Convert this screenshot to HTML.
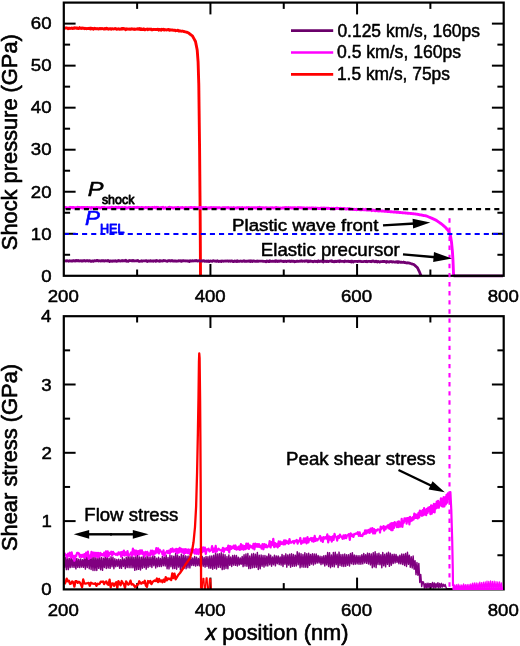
<!DOCTYPE html>
<html><head><meta charset="utf-8"><title>Shock pressure and shear stress profiles</title>
<style>html,body{margin:0;padding:0;background:#fff;} svg{display:block;}</style>
</head><body>
<svg width="520" height="646" viewBox="0 0 520 646" font-family="'Liberation Sans', Arial, Helvetica, sans-serif">
<rect width="520" height="646" fill="#fff"/>
<g><line x1="137.12" y1="275.8" x2="137.12" y2="269.5" stroke="#000" stroke-width="2"/>
<line x1="137.12" y1="2.6" x2="137.12" y2="8.9" stroke="#000" stroke-width="2"/>
<line x1="210.43" y1="275.8" x2="210.43" y2="264.0" stroke="#000" stroke-width="2"/>
<line x1="210.43" y1="2.6" x2="210.43" y2="14.4" stroke="#000" stroke-width="2"/>
<line x1="283.75" y1="275.8" x2="283.75" y2="269.5" stroke="#000" stroke-width="2"/>
<line x1="283.75" y1="2.6" x2="283.75" y2="8.9" stroke="#000" stroke-width="2"/>
<line x1="357.07" y1="275.8" x2="357.07" y2="264.0" stroke="#000" stroke-width="2"/>
<line x1="357.07" y1="2.6" x2="357.07" y2="14.4" stroke="#000" stroke-width="2"/>
<line x1="430.38" y1="275.8" x2="430.38" y2="269.5" stroke="#000" stroke-width="2"/>
<line x1="430.38" y1="2.6" x2="430.38" y2="8.9" stroke="#000" stroke-width="2"/>
<line x1="137.12" y1="589.4" x2="137.12" y2="583.1" stroke="#000" stroke-width="2"/>
<line x1="137.12" y1="316.2" x2="137.12" y2="322.5" stroke="#000" stroke-width="2"/>
<line x1="210.43" y1="589.4" x2="210.43" y2="577.6" stroke="#000" stroke-width="2"/>
<line x1="210.43" y1="316.2" x2="210.43" y2="328.0" stroke="#000" stroke-width="2"/>
<line x1="283.75" y1="589.4" x2="283.75" y2="583.1" stroke="#000" stroke-width="2"/>
<line x1="283.75" y1="316.2" x2="283.75" y2="322.5" stroke="#000" stroke-width="2"/>
<line x1="357.07" y1="589.4" x2="357.07" y2="577.6" stroke="#000" stroke-width="2"/>
<line x1="357.07" y1="316.2" x2="357.07" y2="328.0" stroke="#000" stroke-width="2"/>
<line x1="430.38" y1="589.4" x2="430.38" y2="583.1" stroke="#000" stroke-width="2"/>
<line x1="430.38" y1="316.2" x2="430.38" y2="322.5" stroke="#000" stroke-width="2"/>
<line x1="63.8" y1="254.78" x2="70.1" y2="254.78" stroke="#000" stroke-width="2"/>
<line x1="503.7" y1="254.78" x2="497.4" y2="254.78" stroke="#000" stroke-width="2"/>
<line x1="63.8" y1="233.77" x2="75.6" y2="233.77" stroke="#000" stroke-width="2"/>
<line x1="503.7" y1="233.77" x2="491.9" y2="233.77" stroke="#000" stroke-width="2"/>
<line x1="63.8" y1="212.75" x2="70.1" y2="212.75" stroke="#000" stroke-width="2"/>
<line x1="503.7" y1="212.75" x2="497.4" y2="212.75" stroke="#000" stroke-width="2"/>
<line x1="63.8" y1="191.74" x2="75.6" y2="191.74" stroke="#000" stroke-width="2"/>
<line x1="503.7" y1="191.74" x2="491.9" y2="191.74" stroke="#000" stroke-width="2"/>
<line x1="63.8" y1="170.72" x2="70.1" y2="170.72" stroke="#000" stroke-width="2"/>
<line x1="503.7" y1="170.72" x2="497.4" y2="170.72" stroke="#000" stroke-width="2"/>
<line x1="63.8" y1="149.71" x2="75.6" y2="149.71" stroke="#000" stroke-width="2"/>
<line x1="503.7" y1="149.71" x2="491.9" y2="149.71" stroke="#000" stroke-width="2"/>
<line x1="63.8" y1="128.69" x2="70.1" y2="128.69" stroke="#000" stroke-width="2"/>
<line x1="503.7" y1="128.69" x2="497.4" y2="128.69" stroke="#000" stroke-width="2"/>
<line x1="63.8" y1="107.68" x2="75.6" y2="107.68" stroke="#000" stroke-width="2"/>
<line x1="503.7" y1="107.68" x2="491.9" y2="107.68" stroke="#000" stroke-width="2"/>
<line x1="63.8" y1="86.66" x2="70.1" y2="86.66" stroke="#000" stroke-width="2"/>
<line x1="503.7" y1="86.66" x2="497.4" y2="86.66" stroke="#000" stroke-width="2"/>
<line x1="63.8" y1="65.65" x2="75.6" y2="65.65" stroke="#000" stroke-width="2"/>
<line x1="503.7" y1="65.65" x2="491.9" y2="65.65" stroke="#000" stroke-width="2"/>
<line x1="63.8" y1="44.63" x2="70.1" y2="44.63" stroke="#000" stroke-width="2"/>
<line x1="503.7" y1="44.63" x2="497.4" y2="44.63" stroke="#000" stroke-width="2"/>
<line x1="63.8" y1="23.62" x2="75.6" y2="23.62" stroke="#000" stroke-width="2"/>
<line x1="503.7" y1="23.62" x2="491.9" y2="23.62" stroke="#000" stroke-width="2"/>
<line x1="63.8" y1="555.25" x2="70.1" y2="555.25" stroke="#000" stroke-width="2"/>
<line x1="503.7" y1="555.25" x2="497.4" y2="555.25" stroke="#000" stroke-width="2"/>
<line x1="63.8" y1="521.10" x2="75.6" y2="521.10" stroke="#000" stroke-width="2"/>
<line x1="503.7" y1="521.10" x2="491.9" y2="521.10" stroke="#000" stroke-width="2"/>
<line x1="63.8" y1="486.95" x2="70.1" y2="486.95" stroke="#000" stroke-width="2"/>
<line x1="503.7" y1="486.95" x2="497.4" y2="486.95" stroke="#000" stroke-width="2"/>
<line x1="63.8" y1="452.80" x2="75.6" y2="452.80" stroke="#000" stroke-width="2"/>
<line x1="503.7" y1="452.80" x2="491.9" y2="452.80" stroke="#000" stroke-width="2"/>
<line x1="63.8" y1="418.65" x2="70.1" y2="418.65" stroke="#000" stroke-width="2"/>
<line x1="503.7" y1="418.65" x2="497.4" y2="418.65" stroke="#000" stroke-width="2"/>
<line x1="63.8" y1="384.50" x2="75.6" y2="384.50" stroke="#000" stroke-width="2"/>
<line x1="503.7" y1="384.50" x2="491.9" y2="384.50" stroke="#000" stroke-width="2"/>
<line x1="63.8" y1="350.35" x2="70.1" y2="350.35" stroke="#000" stroke-width="2"/>
<line x1="503.7" y1="350.35" x2="497.4" y2="350.35" stroke="#000" stroke-width="2"/></g>
<g><polyline points="64.50,568.01 65.45,557.71 66.40,569.62 67.35,556.81 68.30,569.62 69.25,558.40 70.20,567.62 71.15,557.04 72.10,567.23 73.05,559.52 74.00,567.34 74.95,558.57 75.90,568.85 76.85,558.42 77.80,567.37 78.75,559.22 79.70,567.60 80.65,558.89 81.60,567.13 82.55,559.61 83.50,567.31 84.45,557.03 85.40,569.13 86.35,556.45 87.30,567.48 88.25,555.78 89.20,568.77 90.15,555.60 91.10,569.50 92.05,556.96 93.00,570.55 93.95,556.14 94.90,570.49 95.85,557.62 96.80,570.46 97.75,556.70 98.70,568.33 99.65,557.68 100.60,569.73 101.55,557.44 102.50,570.36 103.45,558.33 104.40,567.43 105.35,555.16 106.30,568.50 107.25,556.94 108.20,568.00 109.15,558.19 110.10,568.33 111.05,556.73 112.00,566.75 112.95,557.28 113.90,568.72 114.85,558.74 115.80,566.67 116.75,559.54 117.70,566.20 118.65,559.17 119.60,568.17 120.55,559.61 121.50,568.39 122.45,557.47 123.40,566.41 124.35,559.00 125.30,568.57 126.25,557.11 127.20,567.53 128.15,555.82 129.10,567.68 130.05,556.70 131.00,567.67 131.95,555.48 132.90,567.72 133.85,557.12 134.80,570.35 135.75,555.90 136.70,569.72 137.65,555.24 138.60,569.36 139.55,557.06 140.50,569.92 141.45,557.22 142.40,568.27 143.35,555.93 144.30,567.49 145.25,557.44 146.20,569.09 147.15,555.58 148.10,567.52 149.05,557.34 150.00,566.53 150.95,557.10 151.90,567.52 152.85,556.00 153.80,565.77 154.75,556.35 155.70,567.99 156.65,558.20 157.60,566.77 158.55,557.34 159.50,566.47 160.45,558.53 161.40,566.55 162.35,556.50 163.30,565.77 164.25,556.88 165.20,565.93 166.15,555.16 167.10,568.78 168.05,557.54 169.00,568.90 169.95,555.14 170.90,566.72 171.85,555.75 172.80,568.72 173.75,556.13 174.70,568.50 175.65,553.24 176.60,569.31 177.55,554.89 178.50,567.07 179.45,556.45 180.40,570.04 181.35,554.24 182.30,569.52 183.25,555.32 184.20,568.07 185.15,555.64 186.10,568.66 187.05,556.34 188.00,567.70 188.95,556.01 189.90,567.95 190.85,557.17 191.80,565.50 192.75,557.97 193.70,565.45 194.65,556.55 195.60,566.14 196.55,557.16 197.50,565.48 198.45,558.53 199.40,565.86 200.35,556.15 201.30,566.38 202.25,556.35 203.20,566.26 204.15,557.53 205.10,567.14 206.05,556.42 207.00,566.33 207.95,556.78 208.90,568.08 209.85,556.05 210.80,568.19 211.75,555.88 212.70,569.19 213.65,555.23 214.60,568.19 215.55,553.06 216.50,568.96 217.45,554.03 218.40,567.21 219.35,553.67 220.30,567.57 221.25,552.84 222.20,569.63 223.15,554.08 224.10,569.23 225.05,554.71 226.00,568.46 226.95,556.59 227.90,568.70 228.85,554.90 229.80,565.33 230.75,557.00 231.70,566.45 232.65,555.56 233.60,565.08 234.55,555.22 235.50,565.37 236.45,555.53 237.40,565.98 238.35,557.12 239.30,564.91 240.25,557.98 241.20,564.27 242.15,556.39 243.10,566.57 244.05,554.83 245.00,566.00 245.95,554.02 246.90,566.18 247.85,553.50 248.80,568.60 249.75,556.06 250.70,568.48 251.65,554.07 252.60,567.81 253.55,553.47 254.50,567.55 255.45,554.22 256.40,567.20 257.35,552.50 258.30,569.47 259.25,555.28 260.20,568.82 261.15,554.97 262.10,566.18 263.05,555.59 264.00,567.14 264.95,555.59 265.90,565.84 266.85,556.17 267.80,566.05 268.75,553.93 269.70,564.81 270.65,555.19 271.60,566.27 272.55,556.91 273.50,564.78 274.45,555.14 275.40,565.82 276.35,555.90 277.30,563.66 278.25,555.96 279.20,564.58 280.15,556.87 281.10,565.09 282.05,554.37 283.00,566.55 283.95,555.58 284.90,564.29 285.85,553.85 286.80,567.15 287.75,554.89 288.70,565.12 289.65,554.11 290.60,567.26 291.55,553.82 292.50,566.32 293.45,554.44 294.40,566.20 295.35,555.15 296.30,565.94 297.25,551.76 298.20,564.75 299.15,552.89 300.10,567.66 301.05,553.83 302.00,567.05 302.95,554.45 303.90,567.26 304.85,552.69 305.80,567.18 306.75,553.83 307.70,567.42 308.65,553.13 309.60,565.38 310.55,554.40 311.50,564.12 312.45,553.70 313.40,565.02 314.35,554.00 315.30,563.82 316.25,554.09 317.20,563.05 318.15,555.56 319.10,562.96 320.05,556.30 321.00,564.59 321.95,556.53 322.90,563.96 323.85,555.65 324.80,565.98 325.75,555.48 326.70,564.87 327.65,552.44 328.60,566.41 329.55,552.68 330.50,567.65 331.45,555.07 332.40,566.41 333.35,552.54 334.30,566.83 335.25,552.18 336.20,564.61 337.15,554.32 338.10,567.57 339.05,552.10 340.00,565.47 340.95,554.60 341.90,566.25 342.85,554.50 343.80,566.52 344.75,553.99 345.70,566.30 346.65,554.82 347.60,565.17 348.55,554.82 349.50,565.91 350.45,553.47 351.40,563.76 352.35,552.67 353.30,564.54 354.25,555.02 355.20,564.22 356.15,555.47 357.10,563.83 358.05,555.68 359.00,564.26 359.95,555.75 360.90,564.27 361.85,554.81 362.80,563.89 363.75,553.55 364.70,563.04 365.65,554.70 366.60,563.37 367.55,553.10 368.50,563.96 369.45,553.44 370.40,564.90 371.35,553.95 372.30,567.68 373.25,552.67 374.20,566.89 375.15,551.84 376.10,567.59 377.05,553.69 378.00,564.49 378.95,553.18 379.90,564.66 380.85,554.81 381.80,567.67 382.75,552.41 383.70,565.77 384.65,554.35 385.60,566.88 386.55,553.15 387.50,564.36 388.45,552.17 389.40,566.33 390.35,553.14 391.30,565.19 392.25,554.50 393.20,563.55 394.15,554.19 395.10,562.91 396.05,554.43 397.00,562.38 397.95,556.12 398.90,563.78 399.85,555.15 400.80,563.83 401.75,554.08 402.70,564.45 403.65,554.14 404.60,565.42 405.55,553.44 406.50,566.50 407.45,552.19 408.40,564.30 409.35,555.20 410.30,567.23 411.25,556.69 412.20,567.99 413.15,556.06 414.10,569.29 415.05,560.64 416.00,574.64 416.95,562.49 417.90,575.30 418.85,563.43 419.80,582.47 420.75,574.44 421.70,586.61 422.65,581.70 423.50,582.19 424.40,588.09 425.30,583.64 426.20,587.93 427.10,583.20 428.00,587.91 428.90,583.35 429.80,586.99 430.70,583.78 431.60,587.21 432.50,582.58 433.40,588.05 434.30,582.87 435.20,587.80 436.10,583.60 437.00,587.21 437.90,582.64 438.80,587.90 439.70,583.56 440.60,587.27 441.50,583.35 442.40,587.11 443.30,584.26 444.20,586.46 445.10,584.46 446.50,588.80 452.00,588.80" fill="none" stroke="#800080" stroke-width="1.45" stroke-linejoin="round"/>
<polyline points="64.50,552.88 65.40,555.32 66.30,554.97 67.20,557.54 68.10,553.55 69.00,555.71 69.90,552.68 70.80,557.30 71.70,552.36 72.60,557.72 73.50,555.87 74.40,560.71 75.30,555.50 76.20,556.06 77.10,552.78 78.00,552.89 78.90,553.51 79.80,556.84 80.70,554.84 81.60,557.03 82.50,554.80 83.40,556.84 84.30,554.02 85.20,557.92 86.10,552.59 87.00,555.76 87.90,551.68 88.80,559.00 89.70,555.68 90.60,557.96 91.50,551.77 92.40,556.35 93.30,552.57 94.20,556.28 95.10,552.73 96.00,556.45 96.90,552.86 97.80,557.36 98.70,552.98 99.60,556.35 100.50,552.95 101.40,555.07 102.30,554.15 103.20,555.64 104.10,552.72 105.00,555.83 105.90,551.29 106.80,556.91 107.70,551.26 108.60,556.22 109.50,552.91 110.40,554.11 111.30,551.71 112.20,555.47 113.10,551.84 114.00,553.85 114.90,553.61 115.80,554.77 116.70,553.54 117.60,554.97 118.50,552.38 119.40,554.19 120.30,552.32 121.20,556.72 122.10,551.89 123.00,555.29 123.90,550.65 124.80,555.54 125.70,552.40 126.60,554.96 127.50,551.14 128.40,555.52 129.30,555.25 130.20,554.03 131.10,552.42 132.00,555.69 132.90,548.60 133.80,554.49 134.70,550.40 135.60,555.76 136.50,550.71 137.40,553.88 138.30,551.16 139.20,554.61 140.10,550.31 141.00,553.73 141.90,550.33 142.80,554.11 143.70,552.43 144.60,556.50 145.50,551.95 146.40,553.91 147.30,551.84 148.20,555.56 149.10,553.50 150.00,555.63 150.90,550.70 151.80,554.48 152.70,550.70 153.60,554.85 154.50,551.46 155.40,553.47 156.30,548.14 157.20,552.47 158.10,548.28 159.00,553.48 159.90,549.94 160.80,551.51 161.70,551.77 162.60,554.73 163.50,550.40 164.40,555.74 165.30,553.06 166.20,552.30 167.10,550.87 168.00,553.08 168.90,550.62 169.80,553.75 170.70,549.12 171.60,551.81 172.50,548.45 173.40,551.68 174.30,549.55 175.20,551.40 176.10,548.81 177.00,553.19 177.90,549.13 178.80,552.66 179.70,547.75 180.60,551.57 181.50,548.85 182.40,552.54 183.30,549.37 184.20,553.83 185.10,549.13 186.00,552.84 186.90,549.47 187.80,553.08 188.70,549.45 189.60,553.81 190.50,549.69 191.40,552.46 192.30,548.69 193.20,552.52 194.10,549.98 195.00,553.65 195.90,549.04 196.80,553.77 197.70,549.54 198.60,554.15 199.50,549.08 200.40,549.78 201.30,549.92 202.20,552.22 203.10,547.34 204.00,551.10 204.90,547.60 205.80,554.01 206.70,549.47 207.60,549.73 208.50,548.69 209.40,551.41 210.30,550.60 211.20,549.95 212.10,546.09 213.00,552.15 213.90,548.55 214.80,551.56 215.70,545.83 216.60,551.66 217.50,550.12 218.40,548.76 219.30,549.41 220.20,550.17 221.10,550.35 222.00,551.02 222.90,547.84 223.80,551.86 224.70,548.63 225.60,549.67 226.50,548.14 227.40,550.04 228.30,545.49 229.20,552.41 230.10,546.16 231.00,549.00 231.90,546.74 232.80,548.19 233.70,545.59 234.60,548.85 235.50,545.46 236.40,549.56 237.30,547.39 238.20,549.34 239.10,546.46 240.00,549.88 240.90,544.17 241.80,549.11 242.70,545.28 243.60,549.73 244.50,546.01 245.40,549.20 246.30,543.67 247.20,548.27 248.10,543.68 249.00,548.97 249.90,545.30 250.80,547.18 251.70,546.23 252.60,548.26 253.50,543.75 254.40,549.39 255.30,543.60 256.20,546.72 257.10,544.02 258.00,546.89 258.90,544.04 259.80,547.01 260.70,545.73 261.60,548.62 262.50,544.11 263.40,549.27 264.30,544.12 265.20,547.15 266.10,544.66 267.00,547.37 267.90,546.13 268.80,546.48 269.70,541.03 270.60,547.45 271.50,542.10 272.40,545.15 273.30,538.75 274.20,547.19 275.10,543.02 276.00,546.39 276.90,543.80 277.80,547.44 278.70,541.46 279.60,545.90 280.50,541.59 281.40,543.98 282.30,542.33 283.20,544.43 284.10,540.42 285.00,544.31 285.90,540.48 286.80,543.06 287.70,541.28 288.60,543.77 289.50,539.00 290.40,542.75 291.30,542.77 292.20,541.81 293.10,540.91 294.00,543.43 294.90,540.82 295.80,541.37 296.70,539.88 297.60,543.61 298.50,540.90 299.40,541.43 300.30,537.98 301.20,543.78 302.10,541.25 303.00,542.56 303.90,538.25 304.80,542.30 305.70,538.41 306.60,543.30 307.50,537.21 308.40,542.38 309.30,538.93 310.20,539.79 311.10,538.01 312.00,541.33 312.90,538.03 313.80,541.63 314.70,535.87 315.60,540.92 316.50,538.78 317.40,540.36 318.30,538.86 319.20,538.34 320.10,535.97 321.00,540.68 321.90,537.64 322.80,541.98 323.70,537.04 324.60,538.55 325.50,537.04 326.40,538.68 327.30,534.42 328.20,542.37 329.10,536.31 330.00,539.64 330.90,536.93 331.80,541.57 332.70,536.45 333.60,540.00 334.50,533.94 335.40,536.58 336.30,537.17 337.20,540.57 338.10,536.07 339.00,537.97 339.90,534.54 340.80,536.70 341.70,536.71 342.60,538.90 343.50,535.26 344.40,538.50 345.30,535.04 346.20,538.24 347.10,535.24 348.00,535.18 348.90,534.05 349.80,539.80 350.70,533.30 351.60,535.99 352.50,534.75 353.40,536.98 354.30,533.98 355.20,534.16 356.10,533.34 357.00,533.87 357.90,532.11 358.80,535.82 359.70,532.42 360.60,536.00 361.50,535.46 362.40,536.00 363.30,533.39 364.20,534.13 365.10,530.25 366.00,533.59 366.90,530.31 367.80,532.50 368.70,529.97 369.60,532.95 370.50,528.53 371.40,531.66 372.30,528.01 373.20,533.47 374.10,528.99 375.00,533.42 375.90,530.17 376.80,530.69 377.70,529.27 378.60,529.75 379.50,529.94 380.00,532.50 380.70,526.60 381.40,529.20 382.10,527.48 382.80,527.95 383.50,526.09 384.20,530.59 384.90,526.93 385.60,529.17 386.30,526.52 387.00,527.11 387.70,525.50 388.40,528.30 389.10,524.75 389.80,528.78 390.50,523.70 391.20,530.25 391.90,523.18 392.60,530.17 393.30,523.13 394.00,527.95 394.70,522.14 395.40,524.51 396.10,524.01 396.80,527.11 397.50,521.85 398.20,527.21 398.90,521.31 399.60,526.72 400.30,522.60 401.00,526.29 401.70,518.86 402.40,526.96 403.10,521.18 403.80,522.85 404.50,518.26 405.20,520.98 405.90,518.32 406.60,523.64 407.30,518.20 408.00,521.46 408.70,517.81 409.40,524.44 410.10,516.79 410.80,521.11 411.50,518.40 412.20,520.40 412.90,517.01 413.60,519.56 414.30,513.66 415.00,517.93 415.70,514.47 416.40,517.98 417.10,514.51 417.80,518.46 418.50,512.85 419.20,517.32 419.90,510.52 420.60,515.21 421.30,511.48 422.00,515.77 422.70,510.09 423.40,515.22 424.10,508.06 424.80,514.30 425.50,509.94 426.20,515.23 426.90,508.84 427.60,512.95 428.30,507.53 429.00,511.07 429.70,507.16 430.40,514.23 431.10,505.31 431.80,513.63 432.50,505.78 433.20,511.88 433.90,503.79 434.60,512.49 435.30,504.26 436.00,508.34 436.70,501.61 437.40,507.55 438.10,500.89 438.80,507.75 439.50,502.49 440.20,505.01 440.90,498.38 441.60,506.17 442.30,498.78 443.00,506.58 443.70,497.20 444.40,506.42 445.10,497.29 445.80,504.44 446.50,494.79 447.20,502.77 447.90,493.35 448.60,499.17 449.30,493.22 450.00,503.48 450.40,492.00 451.30,510.00 452.20,540.00 452.80,570.00 453.00,586.00" fill="none" stroke="#ff00ff" stroke-width="2.2" stroke-linejoin="round"/>
<polyline points="64.50,584.09 65.60,582.16 66.70,578.64 67.80,581.39 68.90,580.65 70.00,583.95 71.10,583.37 72.20,581.42 73.30,582.35 74.40,586.68 75.50,581.15 76.60,581.26 77.70,582.80 78.80,581.79 79.90,582.41 81.00,584.55 82.10,587.21 83.20,579.51 84.30,583.41 85.40,583.57 86.50,583.32 87.60,583.11 88.70,582.80 89.80,585.78 90.90,582.57 92.00,583.34 93.10,583.65 94.20,583.91 95.30,583.32 96.40,585.92 97.50,583.73 98.60,584.15 99.70,583.68 100.80,581.58 101.90,581.94 103.00,581.43 104.10,584.14 105.20,582.13 106.30,581.34 107.40,584.18 108.50,584.79 109.60,579.73 110.70,587.30 111.80,583.64 112.90,583.31 114.00,585.87 115.10,583.65 116.20,582.15 117.30,588.00 118.40,581.07 119.50,583.20 120.60,585.25 121.70,581.01 122.80,583.12 123.90,584.17 125.00,588.00 126.10,581.31 127.20,583.15 128.30,584.68 129.40,583.39 130.50,580.68 131.60,584.51 132.70,584.14 133.80,585.17 134.90,586.96 136.00,586.53 137.10,584.98 138.20,584.54 139.30,581.22 140.40,583.12 141.50,583.68 142.60,582.10 143.70,582.97 144.80,580.72 145.90,585.70 147.00,586.83 148.10,581.02 149.20,582.54 150.30,580.95 151.40,584.11 152.50,582.16 153.60,581.24 154.70,580.44 155.80,581.08 156.90,578.47 158.00,582.03 159.10,578.84 160.20,581.44 161.30,580.35 162.40,582.28 163.50,579.63 164.60,581.72 165.70,577.24 166.80,580.42 167.90,578.38 169.00,579.11 170.10,578.62 171.20,580.16 172.30,573.29 173.40,578.08 174.50,573.71 175.60,579.29 178.00,575.30 180.00,573.00 182.00,570.00 184.00,567.00 186.00,563.70 188.00,561.00 190.00,558.00 192.00,551.20 193.50,542.30 195.00,527.00 196.10,507.00 197.10,472.00 197.90,432.00 198.50,397.00 198.95,362.00 199.25,353.50 199.60,358.00 200.10,400.00 200.40,440.00 200.70,490.00 200.90,540.00 201.10,588.50" fill="none" stroke="#ff0000" stroke-width="2.3" stroke-linejoin="round"/>
<polyline points="200.80,588.50 202.20,588.50 203.00,578.50 203.80,578.50 204.40,588.50 205.40,588.50 206.20,578.00 207.00,578.00 207.60,588.50 208.80,588.50 209.60,579.00 210.60,579.00 211.30,588.50 212.00,588.50" fill="none" stroke="#ff0000" stroke-width="1.4" stroke-linejoin="round"/></g>
<g><polyline points="64.00,28.20 64.60,28.30 65.20,28.13 65.80,27.96 66.40,28.10 67.00,27.94 67.60,28.27 68.20,28.66 68.80,28.12 69.40,28.09 70.00,28.43 70.60,28.40 71.20,28.33 71.80,28.03 72.40,28.31 73.00,28.53 73.60,27.93 74.20,28.20 74.80,27.78 75.40,27.97 76.00,27.81 76.60,28.30 77.20,28.00 77.80,28.47 78.40,28.45 79.00,28.35 79.60,27.66 80.20,28.26 80.80,28.42 81.40,28.48 82.00,27.99 82.60,28.31 83.20,28.17 83.80,28.23 84.40,28.80 85.00,28.25 85.60,28.49 86.20,28.77 86.80,28.34 87.40,28.49 88.00,28.57 88.60,28.56 89.20,28.18 89.80,28.58 90.40,28.97 91.00,28.11 91.60,28.84 92.20,28.63 92.80,28.41 93.40,29.21 94.00,28.85 94.60,28.27 95.20,28.66 95.80,28.81 96.40,28.59 97.00,28.86 97.60,28.65 98.20,28.88 98.80,29.11 99.40,28.49 100.00,28.76 100.60,28.57 101.20,28.75 101.80,28.37 102.40,28.56 103.00,28.68 103.60,29.02 104.20,29.10 104.80,28.37 105.40,28.54 106.00,28.98 106.60,28.19 107.20,28.66 107.80,28.78 108.40,29.19 109.00,29.03 109.60,28.74 110.20,28.73 110.80,28.78 111.40,29.32 112.00,28.74 112.60,28.79 113.20,28.99 113.80,28.86 114.40,28.84 115.00,28.58 115.59,28.91 116.19,28.79 116.79,29.28 117.39,29.14 117.99,28.94 118.59,29.16 119.19,28.87 119.79,29.29 120.39,28.98 120.99,29.17 121.59,28.62 122.19,29.11 122.79,28.51 123.39,28.42 123.99,28.94 124.59,28.77 125.19,29.10 125.79,29.73 126.39,28.82 126.99,28.89 127.59,29.15 128.19,29.24 128.79,29.05 129.39,29.05 129.99,29.33 130.59,29.28 131.19,28.83 131.79,29.12 132.39,29.16 132.99,28.85 133.59,29.25 134.19,28.92 134.79,29.48 135.39,29.25 135.99,29.23 136.59,29.03 137.19,29.19 137.79,28.63 138.39,28.90 138.99,29.35 139.59,28.62 140.19,29.52 140.79,28.75 141.39,29.51 141.99,29.03 142.59,29.53 143.19,29.34 143.79,28.85 144.39,29.70 144.99,29.76 145.59,29.32 146.19,29.26 146.79,29.31 147.39,29.07 147.99,29.70 148.59,29.22 149.19,29.37 149.79,29.16 150.39,29.22 150.99,29.04 151.59,29.82 152.19,29.41 152.79,29.77 153.39,29.50 153.99,29.30 154.59,29.43 155.19,29.37 155.79,29.56 156.39,29.46 156.99,29.50 157.59,29.19 158.19,29.38 158.79,30.14 159.39,29.45 159.99,29.36 160.59,29.79 161.19,30.13 161.79,29.29 162.39,29.68 162.99,29.56 163.59,29.24 164.19,30.01 164.79,29.80 165.39,29.84 165.99,29.61 166.59,29.99 167.19,29.71 167.79,29.84 168.38,29.57 168.98,29.55 169.58,30.33 170.18,29.80 170.78,30.05 171.38,29.97 171.98,29.87 172.58,29.91 173.18,30.31 173.77,30.09 174.37,30.19 174.97,30.30 175.57,30.71 176.16,30.62 176.76,30.59 177.36,30.37 177.95,30.18 178.55,30.94 179.15,31.00 179.74,30.73 180.34,31.00 180.94,31.13 181.54,31.20 182.13,31.03 182.71,31.19 183.29,31.34 183.87,31.50 184.45,31.65 185.03,31.81 185.61,31.96 186.19,32.12 186.77,32.27 187.35,32.43 187.93,32.58 188.42,32.92 188.90,33.28 189.38,33.64 189.85,34.00 190.33,34.36 190.81,34.72 191.29,35.09 191.77,35.45 192.25,35.81 192.64,36.25 192.92,36.78 193.21,37.30 193.50,37.83 193.79,38.36 194.07,38.88 194.36,39.41 194.65,39.94 194.93,40.46 195.22,40.99 195.50,41.52 195.62,42.11 195.74,42.70 195.86,43.28 195.97,43.87 196.09,44.46 196.21,45.05 196.33,45.64 196.45,46.23 196.56,46.81 196.68,47.40 196.80,47.99 196.92,48.58 197.03,49.17 197.15,49.76 197.23,50.35 197.27,50.95 197.32,51.55 197.36,52.14 197.41,52.74 197.45,53.34 197.50,53.94 197.54,54.54 197.59,55.14 197.63,55.73 197.67,56.33 197.72,56.93 197.76,57.53 197.81,58.13 197.85,58.73 197.90,59.32 197.94,59.92 197.99,60.52 198.03,61.12 198.08,61.72 198.11,62.32 198.13,62.92 198.15,63.52 198.16,64.12 198.18,64.72 198.20,65.32 198.22,65.92 198.24,66.51 198.26,67.11 198.27,67.71 198.29,68.31 198.31,68.91 198.33,69.51 198.35,70.11 198.37,70.71 198.38,71.31 198.40,71.91 198.42,72.51 198.44,73.11 198.46,73.71 198.47,74.31 198.49,74.91 198.51,75.51 198.53,76.11 198.55,76.71 198.57,77.31 198.58,77.91 198.60,78.51 198.62,79.11 198.64,79.71 198.66,80.31 198.68,80.91 198.69,81.51 198.71,82.11 198.73,82.71 198.75,83.31 198.77,83.91 198.78,84.51 198.80,85.11 198.81,85.71 198.82,86.31 198.82,86.91 198.83,87.51 198.84,88.11 198.85,88.71 198.85,89.31 198.86,89.91 198.87,90.51 198.88,91.11 198.88,91.71 198.89,92.31 198.90,92.91 198.90,93.51 198.91,94.11 198.92,94.71 198.93,95.31 198.93,95.91 198.94,96.51 198.95,97.11 198.96,97.71 198.96,98.31 198.97,98.91 198.98,99.51 198.99,100.11 198.99,100.71 199.00,101.30 199.01,101.90 199.02,102.50 199.02,103.10 199.03,103.70 199.04,104.30 199.04,104.90 199.05,105.50 199.06,106.10 199.07,106.70 199.07,107.30 199.08,107.90 199.09,108.50 199.10,109.10 199.10,109.70 199.11,110.30 199.12,110.90 199.13,111.50 199.13,112.10 199.14,112.70 199.15,113.30 199.16,113.90 199.16,114.50 199.17,115.10 199.18,115.70 199.19,116.30 199.19,116.90 199.20,117.50 199.21,118.10 199.21,118.70 199.22,119.30 199.23,119.90 199.24,120.50 199.24,121.10 199.25,121.70 199.26,122.30 199.27,122.90 199.27,123.50 199.28,124.10 199.29,124.70 199.30,125.30 199.30,125.90 199.31,126.50 199.32,127.10 199.33,127.70 199.33,128.30 199.34,128.90 199.35,129.50 199.36,130.10 199.36,130.70 199.37,131.30 199.38,131.90 199.38,132.50 199.39,133.10 199.40,133.70 199.41,134.30 199.41,134.90 199.42,135.50 199.43,136.10 199.44,136.70 199.44,137.30 199.45,137.90 199.46,138.50 199.47,139.10 199.47,139.70 199.48,140.30 199.49,140.90 199.50,141.50 199.50,142.10 199.51,142.70 199.52,143.30 199.52,143.90 199.53,144.50 199.54,145.10 199.55,145.70 199.55,146.30 199.56,146.90 199.57,147.50 199.58,148.10 199.58,148.70 199.59,149.30 199.60,149.90 199.60,150.50 199.61,151.10 199.61,151.70 199.62,152.30 199.62,152.90 199.63,153.50 199.64,154.10 199.64,154.70 199.65,155.30 199.65,155.90 199.66,156.50 199.66,157.10 199.67,157.70 199.67,158.30 199.68,158.90 199.68,159.50 199.69,160.10 199.69,160.70 199.70,161.30 199.70,161.90 199.71,162.50 199.71,163.10 199.72,163.70 199.72,164.30 199.73,164.90 199.73,165.50 199.74,166.10 199.74,166.70 199.75,167.30 199.75,167.90 199.76,168.50 199.76,169.10 199.77,169.70 199.77,170.30 199.78,170.90 199.78,171.50 199.79,172.10 199.79,172.70 199.80,173.30 199.80,173.90 199.81,174.50 199.82,175.10 199.82,175.70 199.83,176.30 199.83,176.90 199.84,177.50 199.84,178.10 199.85,178.70 199.85,179.30 199.86,179.90 199.86,180.50 199.87,181.10 199.87,181.70 199.88,182.30 199.88,182.90 199.89,183.50 199.89,184.10 199.90,184.70 199.90,185.30 199.91,185.90 199.91,186.50 199.92,187.10 199.92,187.70 199.93,188.30 199.93,188.90 199.94,189.50 199.94,190.10 199.95,190.70 199.95,191.30 199.96,191.90 199.96,192.50 199.97,193.10 199.97,193.70 199.98,194.30 199.98,194.90 199.99,195.50 200.00,196.10 200.00,196.70 200.01,197.30 200.01,197.90 200.02,198.50 200.02,199.10 200.03,199.70 200.03,200.30 200.04,200.90 200.04,201.50 200.05,202.10 200.05,202.70 200.06,203.30 200.06,203.90 200.07,204.50 200.07,205.10 200.08,205.70 200.08,206.30 200.09,206.90 200.09,207.50 200.10,208.10 200.10,208.70 200.11,209.30 200.11,209.90 200.12,210.50 200.12,211.10 200.13,211.70 200.13,212.30 200.14,212.90 200.14,213.50 200.15,214.10 200.15,214.70 200.16,215.30 200.16,215.90 200.17,216.50 200.18,217.10 200.18,217.70 200.19,218.30 200.19,218.90 200.20,219.50 200.20,220.10 200.20,220.70 200.21,221.30 200.21,221.90 200.21,222.50 200.22,223.10 200.22,223.70 200.22,224.30 200.23,224.90 200.23,225.50 200.23,226.10 200.24,226.70 200.24,227.30 200.24,227.90 200.25,228.50 200.25,229.10 200.25,229.70 200.26,230.30 200.26,230.90 200.26,231.50 200.26,232.10 200.27,232.70 200.27,233.30 200.27,233.90 200.28,234.50 200.28,235.10 200.28,235.70 200.29,236.30 200.29,236.90 200.29,237.50 200.30,238.10 200.30,238.70 200.30,239.30 200.31,239.90 200.31,240.50 200.31,241.10 200.32,241.70 200.32,242.30 200.32,242.90 200.33,243.50 200.33,244.10 200.33,244.70 200.34,245.30 200.34,245.90 200.34,246.50 200.35,247.10 200.35,247.70 200.35,248.30 200.35,248.90 200.36,249.50 200.36,250.10 200.36,250.70 200.37,251.30 200.37,251.90 200.37,252.50 200.38,253.10 200.38,253.70 200.38,254.30 200.39,254.90 200.39,255.50 200.39,256.10 200.40,256.70 200.40,257.30 200.40,257.90 200.41,258.50 200.41,259.10 200.41,259.70 200.42,260.30 200.42,260.90 200.42,261.50 200.43,262.10 200.43,262.70 200.43,263.30 200.44,263.90 200.44,264.50 200.44,265.10 200.44,265.70 200.45,266.30 200.45,266.90 200.45,267.50 200.46,268.10 200.46,268.70 200.46,269.30 200.47,269.90 200.47,270.50 200.47,271.10 200.48,271.70 200.48,272.30 200.48,272.90 200.49,273.50 200.49,274.10 200.49,274.70 200.50,275.30 200.50,275.90" fill="none" stroke="#ff0000" stroke-width="2.9" stroke-linejoin="round"/>
<polyline points="64.00,261.23 64.60,261.08 65.20,260.88 65.80,260.88 66.40,261.00 67.00,260.67 67.60,260.80 68.20,261.03 68.80,261.30 69.40,260.77 70.00,260.80 70.60,260.86 71.20,261.15 71.80,260.80 72.40,261.18 73.00,260.57 73.60,260.77 74.20,260.77 74.80,261.01 75.40,261.08 76.00,260.44 76.60,260.59 77.20,260.90 77.80,260.66 78.40,260.44 79.00,261.08 79.60,260.95 80.20,260.95 80.80,260.71 81.40,261.08 82.00,260.77 82.60,261.10 83.20,260.60 83.80,260.62 84.40,260.88 85.00,260.66 85.60,261.00 86.20,260.90 86.80,260.60 87.40,260.85 88.00,260.75 88.60,261.07 89.20,260.68 89.80,260.73 90.40,261.14 91.00,261.40 91.60,261.34 92.20,260.86 92.80,260.90 93.40,261.23 94.00,260.81 94.60,260.60 95.20,260.88 95.80,260.96 96.40,260.64 97.00,260.44 97.60,260.49 98.20,261.02 98.80,260.66 99.40,260.82 100.00,260.91 100.60,261.01 101.20,260.77 101.80,260.98 102.40,260.63 103.00,260.77 103.60,260.60 104.20,261.14 104.80,260.85 105.40,260.68 106.00,260.77 106.60,260.81 107.20,261.04 107.80,260.47 108.40,260.61 109.00,260.77 109.60,261.50 110.20,261.11 110.80,260.84 111.40,261.05 112.00,261.38 112.60,260.81 113.20,260.78 113.80,261.18 114.40,261.00 115.00,261.04 115.60,260.75 116.20,261.36 116.80,261.31 117.40,261.02 118.00,261.05 118.60,260.37 119.20,261.04 119.80,260.83 120.40,260.99 121.00,261.05 121.60,260.80 122.20,260.46 122.80,260.98 123.40,260.70 124.00,260.81 124.60,260.74 125.20,260.80 125.80,260.31 126.40,261.20 127.00,260.96 127.60,261.17 128.20,261.39 128.80,260.90 129.40,260.45 130.00,260.67 130.60,260.60 131.20,260.77 131.80,260.92 132.40,260.40 133.00,260.99 133.60,260.52 134.20,260.98 134.80,260.88 135.40,260.83 136.00,260.89 136.60,260.77 137.20,260.75 137.80,260.49 138.40,260.90 139.00,261.37 139.60,261.41 140.20,261.24 140.80,261.09 141.40,260.74 142.00,261.28 142.60,260.90 143.20,260.90 143.80,260.84 144.40,260.94 145.00,260.81 145.60,260.90 146.20,260.65 146.80,260.83 147.40,261.49 148.00,260.91 148.60,260.86 149.20,261.06 149.80,261.10 150.40,260.65 151.00,260.88 151.60,261.16 152.20,261.00 152.80,260.96 153.40,261.32 154.00,260.76 154.60,260.95 155.20,260.80 155.80,261.31 156.40,260.45 157.00,260.77 157.60,260.81 158.20,261.10 158.80,261.09 159.40,261.29 160.00,260.55 160.60,261.13 161.20,260.87 161.80,260.78 162.40,261.08 163.00,260.72 163.60,260.43 164.20,260.85 164.80,260.57 165.40,260.79 166.00,261.04 166.60,261.03 167.20,261.35 167.80,260.90 168.40,260.57 169.00,260.77 169.60,260.73 170.20,260.65 170.80,261.07 171.40,260.80 172.00,260.46 172.60,261.13 173.20,260.93 173.80,261.05 174.40,260.99 175.00,261.12 175.60,260.97 176.20,261.27 176.80,261.07 177.40,261.06 178.00,261.07 178.60,260.60 179.20,260.93 179.80,260.91 180.40,261.02 181.00,260.63 181.60,261.38 182.20,261.00 182.80,260.67 183.40,260.55 184.00,260.91 184.60,260.95 185.20,260.80 185.80,261.00 186.40,260.82 187.00,261.12 187.60,260.80 188.20,260.97 188.80,261.23 189.40,261.63 190.00,260.73 190.60,260.87 191.20,260.78 191.80,261.18 192.40,260.70 193.00,260.87 193.60,260.98 194.20,260.75 194.80,260.75 195.40,260.87 196.00,260.47 196.60,260.63 197.20,260.89 197.80,261.03 198.40,260.95 199.00,260.56 199.60,260.88 200.20,261.20 200.80,261.14 201.40,260.98 202.00,260.78 202.60,261.17 203.20,260.86 203.80,260.72 204.40,260.81 205.00,261.38 205.60,261.07 206.20,261.31 206.80,260.90 207.40,261.26 208.00,260.87 208.60,260.98 209.20,261.65 209.80,261.22 210.40,260.90 211.00,261.01 211.60,261.11 212.20,261.34 212.80,260.91 213.40,260.60 214.00,260.97 214.60,261.04 215.20,261.07 215.80,261.37 216.40,261.12 217.00,261.25 217.60,260.77 218.20,261.27 218.80,261.58 219.40,261.25 220.00,261.12 220.60,261.10 221.20,261.51 221.80,260.83 222.40,261.03 223.00,261.18 223.60,261.25 224.20,260.96 224.80,261.15 225.40,261.00 226.00,261.10 226.60,261.04 227.20,260.79 227.80,261.07 228.40,261.30 229.00,260.84 229.60,261.02 230.20,261.25 230.80,260.82 231.40,261.13 232.00,260.82 232.60,261.37 233.20,261.67 233.80,261.60 234.40,261.04 235.00,261.28 235.60,261.13 236.20,261.13 236.80,261.49 237.40,260.77 238.00,261.37 238.60,261.09 239.20,261.46 239.80,261.16 240.40,260.94 241.00,261.18 241.60,261.30 242.20,261.13 242.80,261.24 243.40,260.99 244.00,260.59 244.60,261.35 245.20,261.30 245.80,261.16 246.40,261.15 247.00,261.39 247.60,261.02 248.20,260.96 248.80,261.09 249.40,261.43 250.00,260.79 250.60,261.44 251.20,260.98 251.80,260.87 252.40,261.46 253.00,261.12 253.60,260.82 254.20,261.06 254.80,261.38 255.40,261.45 256.00,261.05 256.60,261.26 257.20,261.34 257.80,261.00 258.40,261.25 259.00,261.16 259.60,261.03 260.20,261.04 260.80,261.19 261.40,261.18 262.00,261.03 262.60,261.07 263.20,261.45 263.80,261.23 264.40,261.40 265.00,261.48 265.60,261.33 266.20,261.75 266.80,260.98 267.40,261.39 268.00,261.11 268.60,261.65 269.20,261.62 269.80,260.71 270.40,260.95 271.00,261.36 271.60,261.40 272.20,261.38 272.80,261.18 273.40,261.32 274.00,261.37 274.60,261.19 275.20,261.47 275.80,260.65 276.40,261.37 277.00,260.96 277.60,261.46 278.20,261.16 278.80,261.00 279.40,261.31 280.00,260.99 280.60,261.00 281.20,260.83 281.80,261.22 282.40,261.35 283.00,261.49 283.60,261.20 284.20,261.50 284.80,261.24 285.40,261.21 286.00,261.38 286.60,261.51 287.20,261.16 287.80,261.18 288.40,261.21 289.00,261.27 289.60,261.02 290.20,261.51 290.80,261.15 291.40,261.37 292.00,261.05 292.60,261.35 293.20,261.36 293.80,261.16 294.40,261.77 295.00,261.36 295.60,261.71 296.20,261.51 296.80,261.10 297.40,261.18 298.00,261.38 298.60,261.29 299.20,261.29 299.80,261.21 300.40,260.83 301.00,261.22 301.60,260.73 302.20,261.38 302.80,261.10 303.40,261.11 304.00,261.23 304.60,261.36 305.20,260.93 305.80,260.86 306.40,261.03 307.00,260.79 307.60,261.06 308.20,261.70 308.80,261.04 309.40,261.47 310.00,260.96 310.60,261.38 311.20,261.23 311.80,261.30 312.40,261.45 313.00,261.75 313.60,261.36 314.20,261.35 314.80,261.08 315.40,261.47 316.00,261.26 316.60,261.53 317.20,261.31 317.80,261.76 318.40,260.83 319.00,261.26 319.60,261.55 320.20,261.25 320.80,261.14 321.40,261.27 322.00,260.99 322.60,261.37 323.20,261.95 323.80,261.63 324.40,261.07 325.00,261.13 325.60,261.25 326.20,261.60 326.80,261.15 327.40,261.18 328.00,261.58 328.60,261.57 329.20,261.27 329.80,261.08 330.40,260.97 331.00,261.19 331.60,260.81 332.20,261.55 332.80,261.21 333.40,261.49 334.00,261.84 334.60,261.67 335.20,261.09 335.80,261.59 336.40,261.67 337.00,261.19 337.60,261.14 338.20,261.36 338.80,260.99 339.40,261.75 340.00,260.79 340.60,261.11 341.20,261.32 341.80,261.34 342.40,261.44 343.00,261.47 343.60,261.35 344.20,261.68 344.80,260.87 345.40,261.40 346.00,261.23 346.60,261.44 347.20,261.46 347.80,261.18 348.40,261.25 349.00,261.61 349.60,261.50 350.20,261.25 350.80,261.93 351.40,262.00 352.00,261.06 352.60,261.50 353.20,262.05 353.80,261.62 354.40,261.48 355.00,261.38 355.60,261.30 356.20,261.38 356.80,261.30 357.40,261.62 358.00,261.34 358.60,261.33 359.20,261.14 359.80,261.43 360.40,261.22 361.00,261.40 361.60,261.71 362.20,261.54 362.80,261.58 363.40,261.54 364.00,261.47 364.60,261.43 365.20,261.38 365.80,261.65 366.40,261.19 367.00,261.80 367.60,261.47 368.20,261.28 368.80,261.35 369.40,261.30 370.00,261.51 370.60,261.29 371.20,261.76 371.80,261.28 372.40,260.91 373.00,261.30 373.60,260.98 374.20,261.47 374.80,261.75 375.40,261.65 376.00,261.15 376.60,261.30 377.20,261.94 377.80,261.57 378.40,261.50 379.00,261.76 379.60,262.11 380.20,261.83 380.80,261.56 381.40,261.64 382.00,261.72 382.60,261.44 383.20,261.35 383.80,261.65 384.40,261.42 385.00,261.66 385.60,261.72 386.20,262.30 386.79,261.53 387.39,261.73 387.99,261.74 388.59,261.91 389.19,262.08 389.79,261.72 390.39,261.66 390.99,261.47 391.59,261.67 392.19,262.06 392.79,261.96 393.39,261.71 393.99,261.90 394.59,262.02 395.19,262.16 395.79,261.90 396.39,262.01 396.99,261.64 397.59,261.83 398.19,262.54 398.79,261.61 399.39,262.09 399.99,262.25 400.58,262.16 401.18,262.10 401.78,262.34 402.38,262.41 402.98,262.44 403.57,262.05 404.17,262.53 404.77,262.41 405.37,262.54 405.96,262.79 406.56,262.94 407.16,263.06 407.76,262.77 408.35,262.94 408.95,263.00 409.53,263.17 410.10,263.35 410.67,263.53 411.24,263.72 411.81,263.90 412.38,264.08 412.95,264.27 413.53,264.45 414.08,264.67 414.52,265.07 414.96,265.48 415.40,265.88 415.85,266.29 416.29,266.69 416.73,267.10 417.17,267.50 417.57,267.94 417.83,268.49 418.08,269.03 418.34,269.57 418.60,270.11 418.86,270.65 419.12,271.19 419.37,271.74 419.61,272.29 419.83,272.84 420.05,273.40 420.27,273.96 420.49,274.52 420.71,275.08 420.93,275.63" fill="none" stroke="#720072" stroke-width="2.8" stroke-linejoin="round"/>
<polyline points="64.00,207.53 64.60,207.47 65.20,207.53 65.80,207.66 66.40,207.73 67.00,207.84 67.60,207.85 68.20,207.84 68.80,207.88 69.40,207.74 70.00,207.30 70.60,207.58 71.20,207.67 71.80,207.53 72.40,207.79 73.00,207.54 73.60,207.43 74.20,207.90 74.80,207.75 75.40,207.66 76.00,207.80 76.60,207.83 77.20,207.68 77.80,207.13 78.40,207.48 79.00,207.53 79.60,207.42 80.20,207.66 80.80,207.86 81.40,207.53 82.00,207.40 82.60,208.03 83.20,207.53 83.80,207.38 84.40,207.67 85.00,207.71 85.60,207.49 86.20,207.79 86.80,207.53 87.40,207.45 88.00,207.67 88.60,207.79 89.20,207.51 89.80,207.70 90.40,207.61 91.00,208.20 91.60,207.49 92.20,207.91 92.80,207.63 93.40,207.61 94.00,207.78 94.60,207.82 95.20,207.89 95.80,207.71 96.40,207.52 97.00,207.53 97.60,207.74 98.20,207.76 98.80,207.92 99.40,207.73 100.00,207.86 100.60,207.95 101.20,207.68 101.80,207.35 102.40,207.41 103.00,207.36 103.60,207.97 104.20,207.48 104.80,207.90 105.40,207.77 106.00,208.00 106.60,207.85 107.20,207.63 107.80,207.62 108.40,207.67 109.00,207.69 109.60,207.55 110.20,207.65 110.80,207.98 111.40,207.32 112.00,207.71 112.60,207.48 113.20,207.70 113.80,207.83 114.40,207.65 115.00,207.82 115.60,207.35 116.20,207.89 116.80,207.55 117.40,207.79 118.00,207.71 118.60,207.15 119.20,207.52 119.80,207.72 120.40,207.98 121.00,207.73 121.60,207.72 122.20,207.39 122.80,207.96 123.40,208.04 124.00,207.68 124.60,207.63 125.20,207.35 125.80,207.86 126.40,208.22 127.00,207.82 127.60,207.93 128.20,207.79 128.80,207.49 129.40,207.95 130.00,207.44 130.60,207.64 131.20,207.74 131.80,207.86 132.40,207.77 133.00,207.77 133.60,207.54 134.20,207.43 134.80,207.70 135.40,207.55 136.00,207.43 136.60,207.44 137.20,207.60 137.80,207.32 138.40,207.43 139.00,207.37 139.60,207.73 140.20,207.78 140.80,208.10 141.40,207.40 142.00,207.56 142.60,207.88 143.20,207.66 143.80,207.64 144.40,208.04 145.00,207.64 145.60,207.47 146.20,207.44 146.80,207.77 147.40,207.77 148.00,207.43 148.60,207.51 149.20,207.82 149.80,207.82 150.40,207.58 151.00,207.84 151.60,207.83 152.20,207.36 152.80,207.65 153.40,207.80 154.00,207.60 154.60,207.29 155.20,207.66 155.80,207.87 156.40,208.03 157.00,207.28 157.60,208.24 158.20,207.49 158.80,207.91 159.40,207.97 160.00,207.92 160.60,207.75 161.20,207.49 161.80,207.85 162.40,207.58 163.00,207.22 163.60,208.29 164.20,207.87 164.80,208.09 165.40,207.55 166.00,208.02 166.60,208.05 167.20,208.04 167.80,207.73 168.40,207.49 169.00,207.70 169.60,207.29 170.20,207.39 170.80,207.75 171.40,207.54 172.00,207.70 172.60,207.72 173.20,208.12 173.80,208.00 174.40,207.73 175.00,207.98 175.60,207.59 176.20,207.68 176.80,207.93 177.40,207.50 178.00,207.69 178.60,207.48 179.20,207.77 179.80,208.07 180.40,207.60 181.00,207.79 181.60,207.57 182.20,207.52 182.80,207.50 183.40,208.04 184.00,208.23 184.60,207.85 185.20,207.61 185.80,207.90 186.40,207.69 187.00,207.92 187.60,207.82 188.20,207.81 188.80,207.88 189.40,207.64 190.00,207.68 190.60,207.42 191.20,207.67 191.80,207.48 192.40,207.73 193.00,207.57 193.60,207.78 194.20,207.86 194.80,207.48 195.40,207.60 196.00,207.58 196.60,207.92 197.20,208.11 197.80,207.94 198.40,207.70 199.00,208.06 199.60,207.47 200.20,208.07 200.80,207.64 201.40,207.22 202.00,208.31 202.60,208.09 203.20,207.57 203.80,207.81 204.40,207.74 205.00,207.80 205.60,207.48 206.20,207.64 206.80,207.88 207.40,207.83 208.00,208.02 208.60,207.80 209.20,208.25 209.80,207.64 210.40,207.84 211.00,207.40 211.60,207.54 212.20,208.05 212.80,207.60 213.40,207.90 214.00,207.78 214.60,207.58 215.20,207.72 215.80,207.69 216.40,207.70 217.00,207.95 217.60,207.93 218.20,207.68 218.80,207.62 219.40,207.85 220.00,207.78 220.60,208.00 221.20,208.33 221.80,207.97 222.40,207.79 223.00,207.77 223.60,207.63 224.20,207.62 224.80,207.60 225.40,207.73 226.00,207.72 226.60,207.96 227.20,207.73 227.80,207.77 228.40,207.57 229.00,208.14 229.60,207.91 230.20,208.17 230.80,207.97 231.40,208.11 232.00,207.76 232.60,207.96 233.20,208.36 233.80,207.57 234.40,208.05 235.00,208.16 235.60,207.90 236.20,207.97 236.80,208.08 237.40,207.69 238.00,207.90 238.60,207.64 239.20,207.68 239.80,207.70 240.40,207.79 241.00,207.85 241.60,207.92 242.20,207.54 242.80,208.23 243.40,208.06 244.00,207.98 244.60,207.76 245.20,207.81 245.80,207.94 246.40,207.92 247.00,207.49 247.60,207.99 248.20,208.43 248.80,207.46 249.40,208.04 250.00,207.91 250.60,207.81 251.20,208.12 251.80,207.60 252.40,207.87 253.00,208.14 253.60,207.80 254.20,207.76 254.80,207.87 255.40,207.75 256.00,208.16 256.60,207.66 257.20,208.02 257.80,207.59 258.40,207.98 259.00,207.83 259.60,207.32 260.20,207.85 260.80,207.63 261.40,207.76 262.00,208.17 262.60,207.62 263.20,207.64 263.80,208.15 264.40,207.88 265.00,208.17 265.60,207.92 266.20,207.68 266.80,207.84 267.40,208.11 268.00,208.05 268.60,207.86 269.20,207.87 269.80,207.84 270.40,207.74 271.00,208.26 271.60,207.87 272.20,207.63 272.80,207.77 273.40,208.02 274.00,208.00 274.60,207.84 275.20,207.73 275.80,207.87 276.40,207.53 277.00,207.60 277.60,208.04 278.20,207.77 278.80,207.95 279.40,208.12 280.00,208.01 280.60,207.88 281.20,208.31 281.80,208.01 282.40,207.80 283.00,208.03 283.60,207.96 284.20,207.70 284.80,207.90 285.40,207.85 286.00,207.48 286.60,207.85 287.20,207.83 287.80,207.79 288.40,207.55 289.00,207.81 289.60,207.88 290.20,207.91 290.80,207.65 291.40,208.02 292.00,207.64 292.60,207.84 293.20,208.16 293.80,207.75 294.40,207.79 295.00,208.11 295.60,207.82 296.20,207.83 296.80,207.94 297.40,208.11 298.00,207.44 298.60,207.73 299.20,207.69 299.80,207.68 300.40,207.73 301.00,207.75 301.60,207.99 302.20,207.76 302.80,207.97 303.40,208.04 304.00,207.82 304.60,208.01 305.20,208.33 305.80,208.07 306.40,207.88 307.00,208.01 307.60,207.85 308.20,208.10 308.80,208.23 309.40,207.90 310.00,208.03 310.60,208.31 311.20,207.99 311.80,208.14 312.40,207.91 313.00,207.96 313.60,208.03 314.20,208.58 314.80,208.08 315.40,208.06 316.00,208.07 316.60,208.16 317.20,208.33 317.80,208.25 318.40,208.63 319.00,208.28 319.60,208.53 320.20,208.31 320.80,208.39 321.40,207.99 322.00,208.26 322.60,208.28 323.20,208.26 323.80,207.89 324.40,208.50 325.00,208.26 325.60,208.26 326.20,208.31 326.80,208.32 327.40,208.46 328.00,208.14 328.60,208.21 329.20,208.47 329.80,208.45 330.40,208.36 331.00,208.33 331.59,208.29 332.19,208.45 332.79,208.71 333.39,208.27 333.99,208.80 334.59,208.67 335.19,208.43 335.79,208.68 336.39,208.24 336.99,208.20 337.59,208.30 338.19,208.49 338.79,208.51 339.39,208.49 339.99,208.62 340.59,208.20 341.19,208.75 341.79,208.40 342.39,208.58 342.99,208.66 343.59,208.54 344.19,208.52 344.79,208.62 345.39,208.85 345.99,209.00 346.59,209.02 347.19,208.74 347.79,208.80 348.38,208.81 348.98,209.11 349.58,208.64 350.18,209.32 350.78,209.01 351.38,208.97 351.98,209.23 352.58,209.39 353.18,209.28 353.78,209.45 354.38,209.30 354.98,209.54 355.58,209.58 356.18,209.33 356.78,209.67 357.37,209.44 357.97,209.46 358.57,209.28 359.17,209.44 359.77,209.68 360.37,209.29 360.97,209.71 361.57,209.68 362.17,209.69 362.77,209.22 363.37,209.67 363.97,209.85 364.57,209.59 365.17,209.79 365.77,209.33 366.36,209.96 366.96,209.73 367.56,210.06 368.16,209.55 368.76,210.08 369.36,209.92 369.96,210.16 370.56,209.86 371.16,209.97 371.75,210.59 372.35,210.03 372.95,210.10 373.55,210.24 374.15,210.14 374.74,210.63 375.34,210.79 375.94,210.35 376.54,210.20 377.14,210.83 377.73,210.87 378.33,210.86 378.93,210.98 379.53,210.62 380.13,210.84 380.72,210.89 381.32,210.94 381.92,210.99 382.52,211.04 383.12,211.09 383.71,211.14 384.31,211.19 384.91,211.24 385.51,211.29 386.11,211.34 386.70,211.39 387.30,211.44 387.90,211.49 388.50,211.54 389.09,211.59 389.69,211.64 390.29,211.69 390.89,211.74 391.49,211.79 392.08,211.84 392.68,211.89 393.28,211.94 393.88,211.99 394.48,212.04 395.07,212.09 395.67,212.14 396.27,212.19 396.87,212.24 397.47,212.29 398.06,212.34 398.66,212.39 399.26,212.44 399.86,212.49 400.46,212.54 401.05,212.60 401.65,212.65 402.25,212.71 402.84,212.77 403.44,212.82 404.04,212.88 404.64,212.93 405.23,212.99 405.83,213.04 406.43,213.10 407.03,213.16 407.62,213.21 408.22,213.27 408.82,213.32 409.42,213.38 410.01,213.43 410.61,213.49 411.21,213.55 411.81,213.60 412.40,213.66 413.00,213.71 413.60,213.77 414.20,213.82 414.79,213.88 415.39,213.97 415.98,214.08 416.57,214.18 417.16,214.29 417.75,214.40 418.34,214.50 418.93,214.61 419.52,214.72 420.11,214.82 420.70,214.93 421.29,215.04 421.88,215.15 422.47,215.25 423.06,215.36 423.65,215.47 424.24,215.57 424.83,215.68 425.42,215.79 426.01,215.89 426.60,216.00 427.15,216.24 427.70,216.49 428.25,216.73 428.80,216.97 429.35,217.21 429.90,217.45 430.45,217.70 431.00,217.94 431.54,218.18 432.09,218.42 432.64,218.66 433.19,218.91 433.74,219.15 434.29,219.39 434.84,219.63 435.39,219.87 435.93,220.12 436.43,220.46 436.92,220.80 437.41,221.14 437.91,221.49 438.40,221.83 438.90,222.17 439.39,222.51 439.88,222.85 440.38,223.19 440.87,223.53 441.37,223.87 441.85,224.23 442.30,224.62 442.75,225.02 443.20,225.41 443.65,225.81 444.10,226.20 444.56,226.60 445.01,226.99 445.46,227.39 445.88,227.81 446.26,228.28 446.64,228.74 447.03,229.20 447.41,229.66 447.79,230.12 448.17,230.59 448.56,231.05 448.81,231.59 449.06,232.14 449.30,232.69 449.54,233.24 449.78,233.79 450.02,234.34 450.26,234.88 450.44,235.45 450.53,236.05 450.63,236.64 450.72,237.23 450.82,237.82 450.91,238.42 451.01,239.01 451.10,239.60 451.20,240.19 451.29,240.79 451.38,241.38 451.48,241.97 451.55,242.57 451.60,243.16 451.66,243.76 451.72,244.36 451.78,244.96 451.83,245.55 451.89,246.15 451.95,246.75 452.01,247.34 452.07,247.94 452.12,248.54 452.18,249.14 452.24,249.73 452.30,250.33 452.35,250.93 452.41,251.53 452.45,252.12 452.49,252.72 452.52,253.32 452.56,253.92 452.60,254.52 452.64,255.12 452.68,255.72 452.72,256.32 452.76,256.91 452.79,257.51 452.83,258.11 452.87,258.71 452.91,259.31 452.95,259.91 452.99,260.51 453.02,261.11 453.04,261.71 453.06,262.30 453.09,262.90 453.11,263.50 453.13,264.10 453.16,264.70 453.18,265.30 453.20,265.90 453.23,266.50 453.25,267.10 453.27,267.70 453.30,268.30 453.32,268.90 453.35,269.50 453.37,270.10 453.39,270.70 453.42,271.30 453.44,271.90 453.46,272.50 453.49,273.10 453.51,273.70 453.53,274.30 453.56,274.90 453.58,275.49" fill="none" stroke="#ff00ff" stroke-width="2.9" stroke-linejoin="round"/>
<line x1="65.6" y1="209.1" x2="503" y2="209.1" stroke="#000" stroke-width="2.2" stroke-dasharray="5.1,4.02"/>
<line x1="63.8" y1="234.0" x2="503" y2="234.0" stroke="#0000ff" stroke-width="2.2" stroke-dasharray="5.1,4.03"/>
<line x1="453.6" y1="275.8" x2="503" y2="275.8" stroke="#700070" stroke-width="2.8"/></g>
<g><rect x="63.8" y="2.6" width="439.90" height="273.20" fill="none" stroke="#000" stroke-width="2.2"/>
<rect x="63.8" y="316.2" width="439.90" height="273.20" fill="none" stroke="#000" stroke-width="2.2"/></g>
<polyline points="452.50,585.00 452.80,584.35 453.70,589.00 454.60,584.84 455.50,589.00 456.40,584.71 457.30,589.00 458.20,584.14 459.10,589.00 460.00,584.81 460.90,589.00 461.80,584.77 462.70,589.00 463.60,583.78 464.50,589.00 465.40,584.56 466.30,589.00 467.20,584.47 468.10,589.00 469.00,584.46 469.90,589.00 470.80,583.96 471.70,589.00 472.60,583.11 473.50,589.00 474.40,582.92 475.30,589.00 476.20,582.95 477.10,589.00 478.00,583.04 478.90,589.00 479.80,582.12 480.70,589.00 481.60,582.64 482.50,589.00 483.40,582.16 484.30,589.00 485.20,581.92 486.10,589.00 487.00,581.12 487.90,589.00 488.80,581.32 489.70,589.00 490.60,580.78 491.50,589.00 492.40,581.41 493.30,589.00 494.20,581.22 495.10,589.00 496.00,581.50 496.90,589.00 497.80,581.89 498.70,589.00 499.60,581.78 500.50,589.00 501.40,582.77 502.30,589.00" fill="none" stroke="#ff00ff" stroke-width="1.2" stroke-linejoin="round"/><line x1="452.5" y1="588.6" x2="503" y2="588.6" stroke="#ff00ff" stroke-width="2.6"/>
<line x1="449.5" y1="218" x2="449.5" y2="589" stroke="#ff00ff" stroke-width="2.1" stroke-dasharray="4.4,4.7" stroke-dashoffset="-0.3"/>
<g><line x1="291" y1="30.6" x2="333.2" y2="30.6" stroke="#6a006a" stroke-width="2.7"/>
<line x1="291" y1="52.5" x2="333.2" y2="52.5" stroke="#ff00ff" stroke-width="2.7"/>
<line x1="291" y1="74.4" x2="333.2" y2="74.4" stroke="#ff0000" stroke-width="2.7"/></g>
<g><line x1="383.00" y1="225.40" x2="414.83" y2="223.52" stroke="#000" stroke-width="2.4"/><polygon points="430.30,222.60 413.11,228.43 412.55,218.84" fill="#000"/>
<line x1="403.00" y1="254.40" x2="435.56" y2="257.19" stroke="#000" stroke-width="2.4"/><polygon points="452.00,258.60 433.14,262.00 433.99,252.04" fill="#000"/>
<line x1="398.50" y1="470.00" x2="432.36" y2="486.23" stroke="#000" stroke-width="2.4"/><polygon points="444.80,492.20 428.56,489.52 432.54,481.22" fill="#000"/>
<line x1="112.00" y1="534.30" x2="87.20" y2="534.30" stroke="#000" stroke-width="2.4"/><polygon points="73.70,534.30 89.20,529.90 89.20,538.70" fill="#000"/>
<line x1="110.00" y1="534.30" x2="134.80" y2="534.30" stroke="#000" stroke-width="2.4"/><polygon points="148.60,534.30 132.80,538.70 132.80,529.90" fill="#000"/></g>
<g fill="#000" stroke="#000" stroke-width="0.5" stroke-linejoin="round">
<text transform="translate(41.21,281.89) scale(1.0964,1)" font-size="17.0" fill="#000" stroke="#000">0</text>
<text transform="translate(30.84,239.86) scale(1.0964,1)" font-size="17.0" fill="#000" stroke="#000">10</text>
<text transform="translate(30.84,197.82) scale(1.0964,1)" font-size="17.0" fill="#000" stroke="#000">20</text>
<text transform="translate(30.84,154.99) scale(1.0964,1)" font-size="17.0" fill="#000" stroke="#000">30</text>
<text transform="translate(30.84,112.96) scale(1.0964,1)" font-size="17.0" fill="#000" stroke="#000">40</text>
<text transform="translate(30.84,70.93) scale(1.0964,1)" font-size="17.0" fill="#000" stroke="#000">50</text>
<text transform="translate(30.84,28.90) scale(1.0964,1)" font-size="17.0" fill="#000" stroke="#000">60</text>
<text transform="translate(41.21,595.49) scale(1.0964,1)" font-size="17.0" fill="#000" stroke="#000">0</text>
<text transform="translate(41.39,527.19) scale(1.0964,1)" font-size="17.0" fill="#000" stroke="#000">1</text>
<text transform="translate(41.39,458.89) scale(1.0964,1)" font-size="17.0" fill="#000" stroke="#000">2</text>
<text transform="translate(41.30,390.59) scale(1.0964,1)" font-size="17.0" fill="#000" stroke="#000">3</text>
<text transform="translate(41.02,322.29) scale(1.0964,1)" font-size="17.0" fill="#000" stroke="#000">4</text>
<text transform="translate(47.72,302.00) scale(1.0964,1)" font-size="17.0" fill="#000" stroke="#000">200</text>
<text transform="translate(47.72,616.20) scale(1.0964,1)" font-size="17.0" fill="#000" stroke="#000">200</text>
<text transform="translate(194.63,302.00) scale(1.0964,1)" font-size="17.0" fill="#000" stroke="#000">400</text>
<text transform="translate(194.63,616.20) scale(1.0964,1)" font-size="17.0" fill="#000" stroke="#000">400</text>
<text transform="translate(340.99,302.00) scale(1.0964,1)" font-size="17.0" fill="#000" stroke="#000">600</text>
<text transform="translate(340.99,616.20) scale(1.0964,1)" font-size="17.0" fill="#000" stroke="#000">600</text>
<text transform="translate(487.71,302.00) scale(1.0964,1)" font-size="17.0" fill="#000" stroke="#000">800</text>
<text transform="translate(487.71,616.20) scale(1.0964,1)" font-size="17.0" fill="#000" stroke="#000">800</text>
<text transform="translate(337.39,36.60) scale(0.9981,1)" font-size="17.5" fill="#000" stroke="#000">0.125 km/s, 160ps</text>
<text transform="translate(337.09,58.40) scale(1.0032,1)" font-size="17.5" fill="#000" stroke="#000">0.5 km/s, 160ps</text>
<text transform="translate(336.90,80.20) scale(0.9940,1)" font-size="17.5" fill="#000" stroke="#000">1.5 km/s, 75ps</text>
<text transform="translate(232.10,230.80) scale(1.0865,1)" font-size="17.2" fill="#000" stroke="#000">Plastic wave front</text>
<text transform="translate(260.81,256.10) scale(1.0380,1)" font-size="18.0" fill="#000" stroke="#000">Elastic precursor</text>
<text transform="translate(286.11,464.80) scale(1.0490,1)" font-size="17.8" fill="#000" stroke="#000">Peak shear stress</text>
<text transform="translate(84.31,521.10) scale(1.0449,1)" font-size="17.8" fill="#000" stroke="#000">Flow stress</text>
<text transform="translate(87.69,196.30) scale(1.1249,1)" font-size="21.0" font-style="italic" stroke-width="0.6" fill="#000" stroke="#000">P</text>
<text transform="translate(101.89,203.60) scale(0.9585,1)" font-size="13.0" stroke-width="0.85" fill="#000" stroke="#000">shock</text>
<text transform="translate(84.93,225.10) scale(1.1181,1)" font-size="20.0" font-style="italic" stroke-width="0.6" fill="#0000ff" stroke="#0000ff">P</text>
<text transform="translate(99.89,233.40) scale(1.0284,1)" font-size="12.3" stroke-width="0.85" fill="#0000ff" stroke="#0000ff">HEL</text>
<text transform="translate(17.40,250.18) rotate(-90) scale(0.9936,1)" font-size="22.0" stroke-width="0.65" fill="#000" stroke="#000">Shock pressure (GPa)</text>
<text transform="translate(17.40,551.08) rotate(-90) scale(0.9946,1)" font-size="22.0" stroke-width="0.65" fill="#000" stroke="#000">Shear stress (GPa)</text>
<text transform="translate(205.38,639.80) scale(0.9925,1)" font-size="22.0" stroke-width="0.65"><tspan font-style="italic">x</tspan> position (nm)</text>
</g>
</svg>
</body></html>
